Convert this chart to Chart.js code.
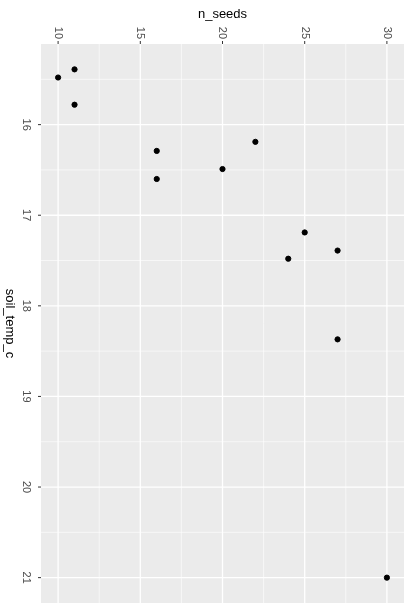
<!DOCTYPE html>
<html>
<head>
<script src="https://cdn.jsdelivr.net/npm/chart.js@4"></script>
<style>body{margin:0;background:#fff}</style>
</head>
<body>
<canvas id="myChart" width="410" height="608"></canvas>
<script>
const nSeeds = [10, 11, 11, 16, 16, 22, 20, 25, 27, 24, 27, 30];
const soilTemp = [15.48, 15.39, 15.78, 16.29, 16.6, 16.19, 16.49, 17.19, 17.39, 17.48, 18.37, 21.0];
const xTicks = [10, 15, 20, 25, 30];
const yTicks = [16, 17, 18, 19, 20, 21];

const font = '11px "Liberation Sans", Arial, sans-serif';

// grey panel, grid, ticks and rotated labels in ggplot style
const ggPanel = {
  id: 'ggPanel',
  beforeDatasetsDraw(chart) {
    const { ctx, chartArea: a, scales: { x, y } } = chart;
    ctx.save();
    ctx.fillStyle = '#EBEBEB';
    ctx.fillRect(a.left, a.top, a.right - a.left, a.bottom - a.top);
    ctx.strokeStyle = '#fff';
    for (let v = 7.5; v <= 32.5; v += 2.5) {
      const px = x.getPixelForValue(v);
      if (px < a.left || px > a.right) continue;
      ctx.lineWidth = v % 5 === 0 ? 1.3 : 0.6;
      ctx.beginPath(); ctx.moveTo(px, a.top); ctx.lineTo(px, a.bottom); ctx.stroke();
    }
    for (let v = 15; v <= 21.5; v += 0.5) {
      const py = y.getPixelForValue(v);
      if (py < a.top || py > a.bottom) continue;
      ctx.lineWidth = v % 1 === 0 ? 1.3 : 0.6;
      ctx.beginPath(); ctx.moveTo(a.left, py); ctx.lineTo(a.right, py); ctx.stroke();
    }
    ctx.restore();
  },
  afterDraw(chart) {
    const { ctx, chartArea: a, scales: { x, y } } = chart;
    ctx.save();
    ctx.strokeStyle = '#333'; ctx.lineWidth = 1;
    ctx.fillStyle = '#4D4D4D'; ctx.font = font;
    ctx.textBaseline = 'middle';
    xTicks.forEach(v => {
      const px = x.getPixelForValue(v);
      ctx.beginPath(); ctx.moveTo(px, a.top); ctx.lineTo(px, a.top - 3); ctx.stroke();
      ctx.save(); ctx.translate(px, a.top - 5); ctx.rotate(Math.PI / 2);
      ctx.textAlign = 'right'; ctx.fillText(String(v), 0, 0); ctx.restore();
    });
    yTicks.forEach(v => {
      const py = y.getPixelForValue(v);
      ctx.beginPath(); ctx.moveTo(a.left, py); ctx.lineTo(a.left - 3, py); ctx.stroke();
      ctx.save(); ctx.translate(a.left - 15, py); ctx.rotate(Math.PI / 2);
      ctx.textAlign = 'center'; ctx.fillText(String(v), 0, 0); ctx.restore();
    });
    ctx.fillStyle = '#000'; ctx.font = '13px "Liberation Sans", Arial, sans-serif';
    ctx.textAlign = 'center';
    ctx.fillText('n_seeds', (a.left + a.right) / 2, 14);
    ctx.save(); ctx.translate(10, (a.top + a.bottom) / 2); ctx.rotate(Math.PI / 2);
    ctx.fillText('soil_temp_c', 0, 0); ctx.restore();
    ctx.restore();
  }
};

new Chart(document.getElementById('myChart'), {
  type: 'scatter',
  data: {
    datasets: [{
      data: nSeeds.map((n, i) => ({ x: n, y: soilTemp[i] })),
      backgroundColor: '#000',
      borderColor: '#000',
      pointRadius: 2.6,
      pointHoverRadius: 2.6
    }]
  },
  options: {
    responsive: false,
    animation: false,
    layout: { padding: { left: 41, top: 44, right: 6, bottom: 5 } },
    plugins: { legend: { display: false }, tooltip: { enabled: false } },
    scales: {
      x: {
        position: 'top', min: 8.96, max: 31.04,
        ticks: { display: false }, grid: { display: false }, border: { display: false },
        afterFit: s => { s.height = 0; }
      },
      y: {
        reverse: true, min: 15.11, max: 21.28,
        ticks: { display: false }, grid: { display: false }, border: { display: false },
        afterFit: s => { s.width = 0; }
      }
    }
  },
  plugins: [ggPanel]
});
</script>
</body>
</html>
